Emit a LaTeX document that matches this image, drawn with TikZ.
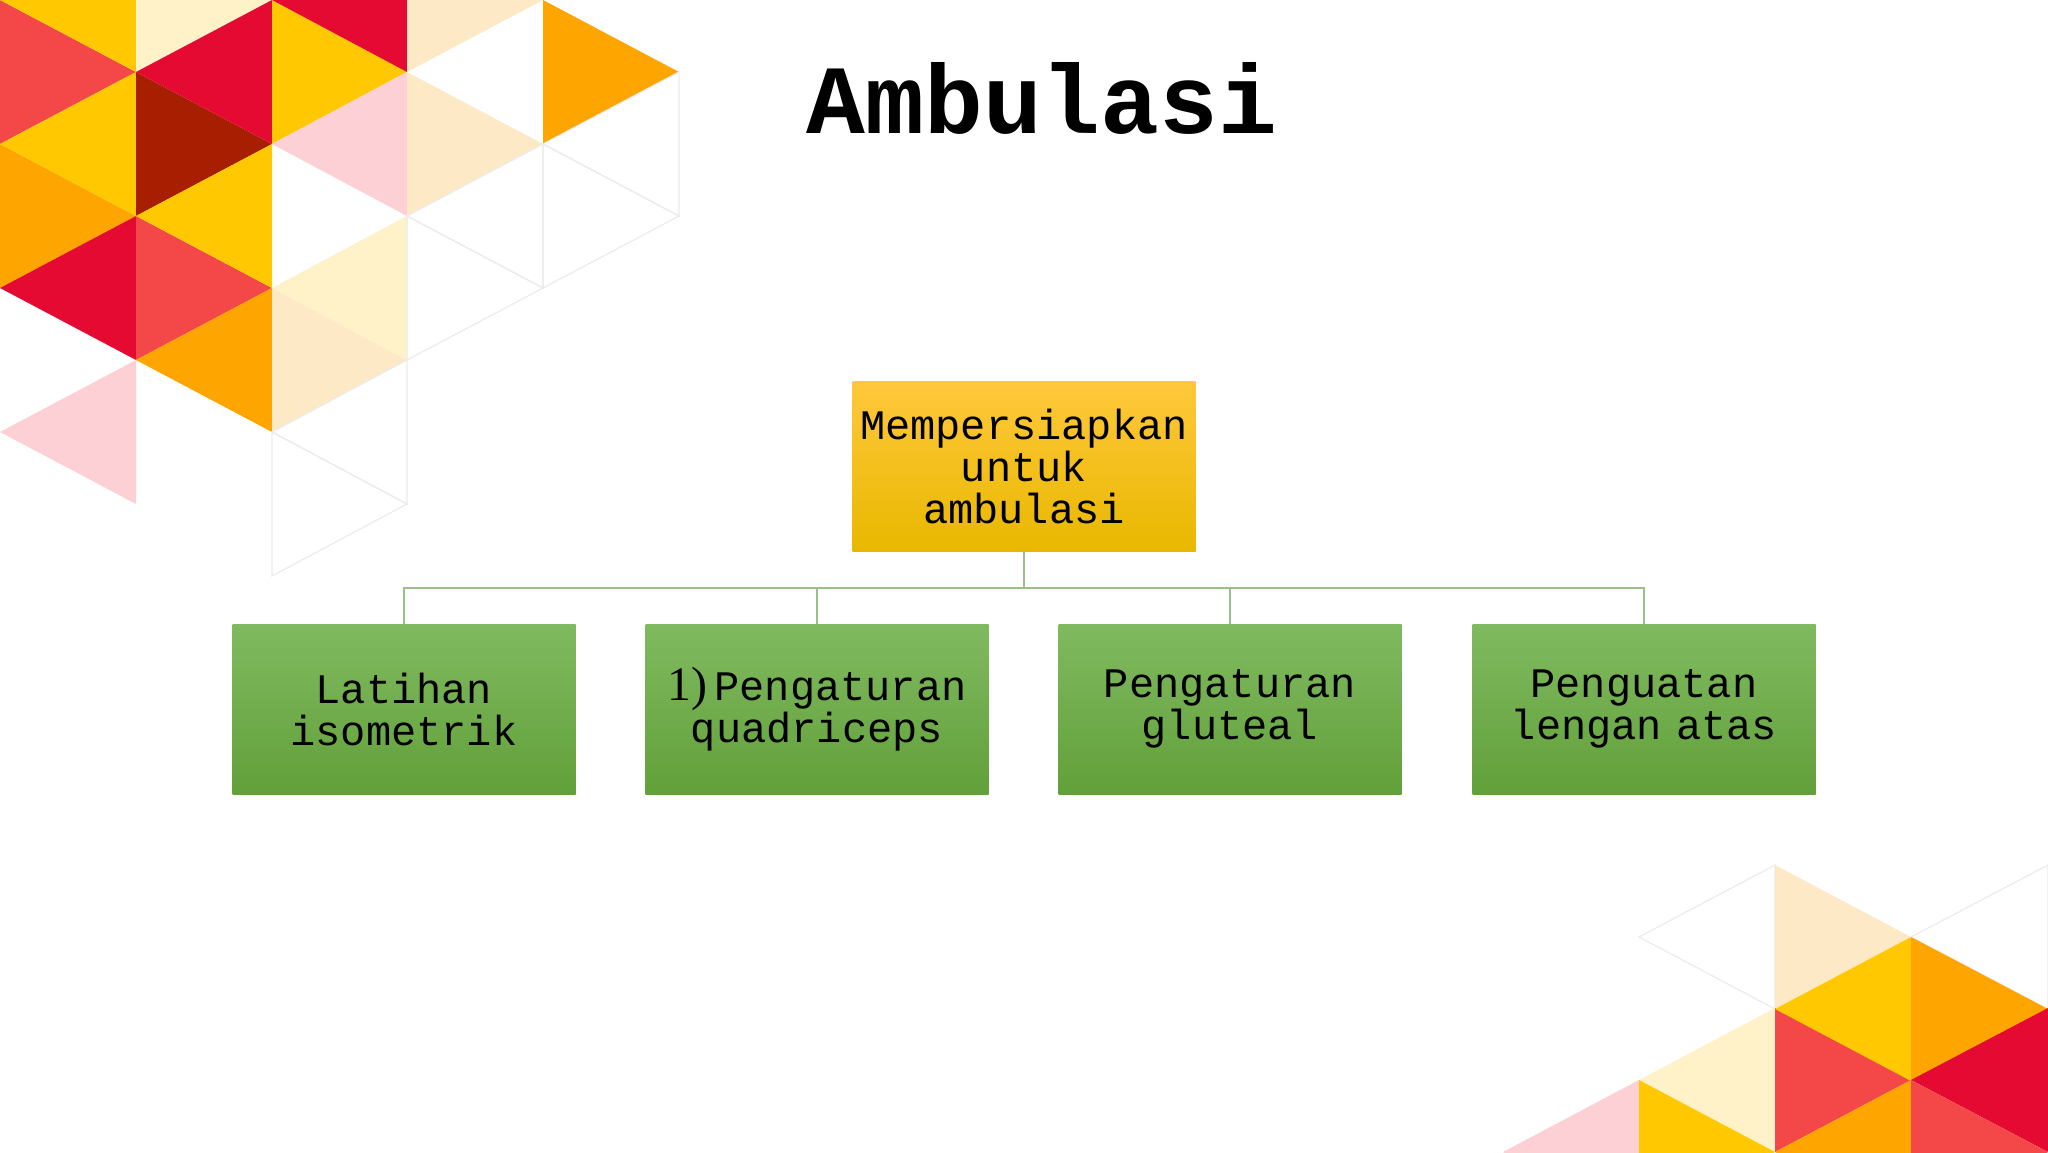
\documentclass[tikz,border=0pt]{standalone}
\usepackage{fontspec}
\setmonofont{Liberation Mono}
\newfontfamily\serifnum{Liberation Serif}
\definecolor{tcoral}{HTML}{F44848}
\definecolor{tred}{HTML}{E50A32}
\definecolor{tdark}{HTML}{A81E00}
\definecolor{tyel}{HTML}{FFC800}
\definecolor{torange}{HTML}{FFA500}
\definecolor{tpink}{HTML}{FCD0D5}
\definecolor{tcream}{HTML}{FFF2C8}
\definecolor{tpeach}{HTML}{FDE9C5}
\definecolor{tline}{HTML}{ECECEC}
\definecolor{conn}{HTML}{9CBF8A}
\definecolor{rtop}{HTML}{FFC83C}
\definecolor{rbot}{HTML}{E8B800}
\definecolor{gtop}{HTML}{80BA60}
\definecolor{gbot}{HTML}{62A03A}
\newcommand\tri[4]{\fill[#1] (#2,#3) -- (#2,#3+144) -- (#4,#3+72) -- cycle;}
\newcommand\otri[3]{\draw[tline,line width=1.2pt] (#1,#2) -- (#1,#2+144) -- (#3,#2+72) -- cycle;}
\tikzset{
 rootbox/.style={rectangle, minimum width=343pt, minimum height=170pt, text width=335pt, align=center, inner sep=0pt, top color=rtop, bottom color=rbot, font=\ttfamily\fontsize{42}{42}\selectfont},
 childbox/.style={rectangle, minimum width=343pt, minimum height=170pt, text width=335pt, align=center, inner sep=0pt, top color=gtop, bottom color=gbot, font=\ttfamily\fontsize{42}{42}\selectfont},
 link/.style={conn, line width=1.6pt}
}
\begin{document}
\begin{tikzpicture}[x=1pt,y=-1pt]
\useasboundingbox (0,0) rectangle (2048,1152);
\fill[white] (0,0) rectangle (2048,1152);
\begin{scope}
\clip (0,0) rectangle (2048,1152);
% top-left
\tri{tcoral}{0}{0}{136}\tri{torange}{0}{144}{136}
\tri{tyel}{136}{-72}{0}\tri{tyel}{136}{72}{0}\tri{tred}{136}{216}{0}\tri{tpink}{136}{360}{0}
\tri{tcream}{136}{-72}{272}\tri{tdark}{136}{72}{272}\tri{tcoral}{136}{216}{272}
\tri{tred}{272}{0}{136}\tri{tyel}{272}{144}{136}\tri{torange}{272}{288}{136}
\tri{tyel}{272}{0}{407}\tri{tpeach}{272}{288}{407}\otri{272}{432}{407}
\tri{tred}{407}{-72}{272}\tri{tpink}{407}{72}{272}\tri{tcream}{407}{216}{272}\otri{407}{360}{272}
\tri{tpeach}{407}{-72}{543}\tri{tpeach}{407}{72}{543}\otri{407}{216}{543}
\otri{543}{144}{407}
\tri{torange}{543}{0}{679}\otri{543}{144}{679}
\otri{679}{72}{543}
% bottom-right
\tri{tpink}{1639}{1080}{1503}
\otri{1775}{865}{1639}\tri{tcream}{1775}{1008}{1639}\tri{tyel}{1639}{1080}{1775}
\tri{tpeach}{1775}{865}{1911}\tri{tcoral}{1775}{1008}{1911}\tri{tyel}{1911}{937}{1775}\tri{torange}{1911}{1080}{1775}
\otri{2048}{865}{1911}\tri{torange}{1911}{937}{2048}\tri{tred}{2048}{1008}{1911}\tri{tcoral}{1911}{1080}{2048}
\end{scope}
\node[font=\ttfamily\bfseries\fontsize{98}{98}\selectfont] (title) at (1042,98) {Ambulasi};
\node[rootbox] (root) at (1024,466) {Mempersiapkan\\untuk\\ambulasi};
\node[childbox] (c1) at (404,709) {Latihan\\isometrik};
\node[childbox] (c2) at (817,709) {{\serifnum\fontsize{48}{42}\selectfont 1)}\,Pengaturan\\quadriceps};
\node[childbox] (c3) at (1230,709) {Pengaturan\\gluteal};
\node[childbox] (c4) at (1644,709) {Penguatan\\lengan atas};
\coordinate (bus) at (1024,588);
\draw[link] (root.south) -- (bus);
\foreach \c in {c1,c2,c3,c4}{\draw[link] (\c.north) |- (bus);}
\end{tikzpicture}
\end{document}
